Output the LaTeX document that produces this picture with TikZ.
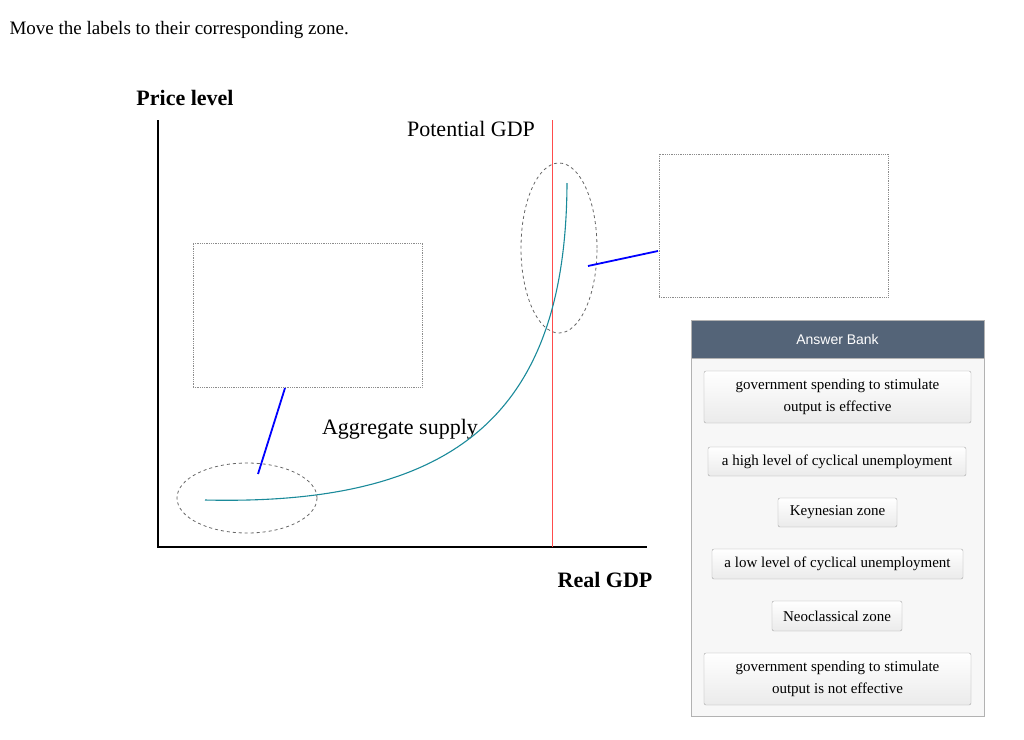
\documentclass[tikz,border=0pt]{standalone}
\usepackage{fontspec}
\usetikzlibrary{shapes.geometric}
\setmainfont{Liberation Serif}
\newfontfamily\sansf{Liberation Sans}
\definecolor{hdrc}{HTML}{546478}
\definecolor{curvec}{HTML}{1A8A9A}
\begin{document}
\begin{tikzpicture}[x=1pt,y=-1pt,
  btn/.style={draw=black!35,rounded corners=2pt,top color=white,bottom color=black!8,font=\fontsize{15}{22}\selectfont,align=center,inner sep=0pt},
  dbox/.style={draw=black!45,densely dotted,line width=0.8pt},
  zone/.style={draw=black!60,dashed,line width=0.8pt},
  lead/.style={draw=blue,line width=1.8pt}]
\useasboundingbox (0,0) rectangle (1024,739);
\node[anchor=west,font=\fontsize{19}{22}\selectfont] (title) at (6,30) {Move the labels to their corresponding zone.};
\node[font=\bfseries\fontsize{22}{24}\selectfont] (pl) at (185,98) {Price level};
\coordinate (o) at (158,547); \coordinate (yt) at (158,120); \coordinate (xe) at (647,547);
\draw[line width=1.2pt] (yt) -- (o) -- (xe);
\coordinate (pt) at (552,120); \coordinate (pb) at (552,547);
\draw[red!70,line width=1pt] (pt) -- (pb);
\node[font=\fontsize{22}{24}\selectfont] (pg) at (471,129) {Potential GDP};
\node[font=\bfseries\fontsize{22}{24}\selectfont] (rg) at (605,580) {Real GDP};
\node[font=\fontsize{22}{24}\selectfont] (as) at (400,429) {Aggregate supply};
\draw[curvec,line width=1.1pt] (205,500) .. controls (460,506) and (566,410) .. (567,183);
\node[zone,ellipse,minimum width=140pt,minimum height=70pt,inner sep=0pt] (z1) at (247,498) {};
\node[zone,ellipse,minimum width=76pt,minimum height=170pt,inner sep=0pt] (z2) at (559,248) {};
\node[dbox,minimum width=229pt,minimum height=144pt,inner sep=0pt] (b1) at (307.5,315) {};
\node[dbox,minimum width=229pt,minimum height=143pt,inner sep=0pt] (b2) at (773.5,225.5) {};
\coordinate (l1a) at (258,474); \coordinate (l1b) at (285,388);
\coordinate (l2a) at (588,266); \coordinate (l2b) at (658,251);
\draw[lead] (l1a) -- (l1b);
\draw[lead] (l2a) -- (l2b);
\node[draw=black!30,fill=black!3,minimum width=293pt,minimum height=396pt,inner sep=0pt] (bank) at (837.5,518) {};
\node[fill=hdrc,draw=black!30,minimum width=293pt,minimum height=38pt,inner sep=0pt,text=white,font=\sansf\fontsize{14}{16}\selectfont] (hdr) at (837.5,339) {Answer Bank};
\node[btn,minimum width=267pt,minimum height=52pt] (a1) at (837.5,397) {government spending to stimulate\\output is effective};
\node[btn,minimum width=258pt,minimum height=29pt] (a2) at (837,461.5) {a high level of cyclical unemployment};
\node[btn,minimum width=119pt,minimum height=29pt] (a3) at (837.5,512.5) {Keynesian zone};
\node[btn,minimum width=251pt,minimum height=30pt] (a4) at (837.5,564) {a low level of cyclical unemployment};
\node[btn,minimum width=130pt,minimum height=30pt] (a5) at (837,616) {Neoclassical zone};
\node[btn,minimum width=267pt,minimum height=52pt] (a6) at (837.5,679) {government spending to stimulate\\output is not effective};
\end{tikzpicture}
\end{document}
